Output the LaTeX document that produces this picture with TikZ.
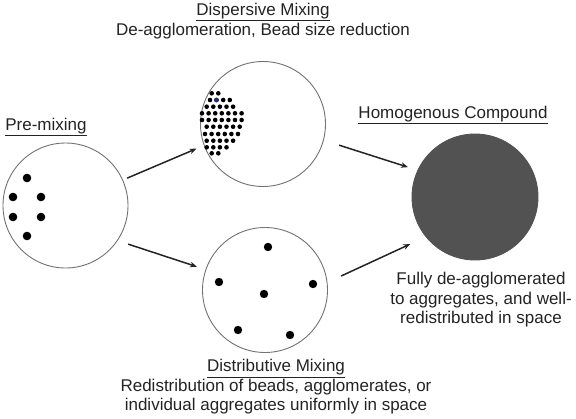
\documentclass[tikz,border=0pt]{standalone}
\usepackage{fontspec}
\setmainfont{Liberation Sans}
\usetikzlibrary{arrows.meta}
\definecolor{inkgray}{RGB}{35,35,35}
\definecolor{rimgray}{RGB}{115,115,115}
\definecolor{solidgray}{RGB}{82,82,82}
\definecolor{beadblue}{RGB}{40,40,120}
\begin{document}
\begin{tikzpicture}[x=1pt,y=-1pt,
    blob/.style = {circle, draw=rimgray, line width=0.9pt, inner sep=0pt,
                   minimum size=125pt, fill=white},
    caption/.style = {align=center, text=inkgray, inner sep=0pt,
                      font=\fontsize{17}{19.5}\selectfont},
    arr/.style = {inkgray, line width=1.5pt, -{Stealth[length=7pt,width=5.5pt]}},
    bead/.style = {fill=black},
  ]
\useasboundingbox (0,0) rectangle (576,418);

% circles
\node[blob] (premix) at (65.5,205.5) {};
\node[blob] (disp) at (263,124) {};
\node[blob] (dist) at (265,290) {};
\node[blob, draw=solidgray, fill=solidgray, minimum size=126pt] (homog) at (475,197) {};

% labels
\node[caption] (premixlbl) at (46,127) {\underline{Pre-mixing}};
\node[caption] (displbl) at (263,21) {\underline{Dispersive Mixing}\\De-agglomeration, Bead size reduction};
\node[caption] (homoglbl) at (453,115) {\underline{Homogenous Compound}};
\node[caption] (homogtxt) at (481,300) {Fully de-agglomerated\\to aggregates, and well-\\redistributed in space};
\node[caption] (distlbl) at (276,387) {\underline{Distributive Mixing}\\Redistribution of beads, agglomerates, or\\individual aggregates uniformly in space};

% beads before mixing
\foreach \x/\y in {27/178, 13/197, 41/197, 13/217, 41/217, 27/236}
    \fill[bead] (\x,\y) circle (4.3);

% beads spread out
\foreach \x/\y in {268/247, 219/282, 313/284, 264/294, 238/330, 290/335}
    \fill[bead] (\x,\y) circle (4.2);

% broken-down beads, row by row: y / first x / count
\foreach \y/\xs/\n in {93.3/211.7/2, 100/210/4, 106.7/206.7/5, 113.3/202/7, 120/202/7,
                       126.7/206.7/6, 134/205/6, 140.7/206.7/5, 147.3/206.7/4, 153.3/211.7/2}
    \foreach \k in {1,...,\n}
        \fill[bead] (\xs+6.6*\k-6.6,\y) circle (2.3);
\fill[beadblue] (216.3,100) circle (2.3);

% arrows
\draw[arr, shorten <=4.5pt, shorten >=8pt] (premix.24) -- (disp.200);
\draw[arr, shorten <=11pt, shorten >=9pt] (premix.-34) -- (dist.161);
\draw[arr, shorten <=16pt, shorten >=10pt] (disp.-15) -- (homog.155);
\draw[arr, shorten <=15pt, shorten >=17pt] (dist.7) -- (homog.219);
\end{tikzpicture}
\end{document}
